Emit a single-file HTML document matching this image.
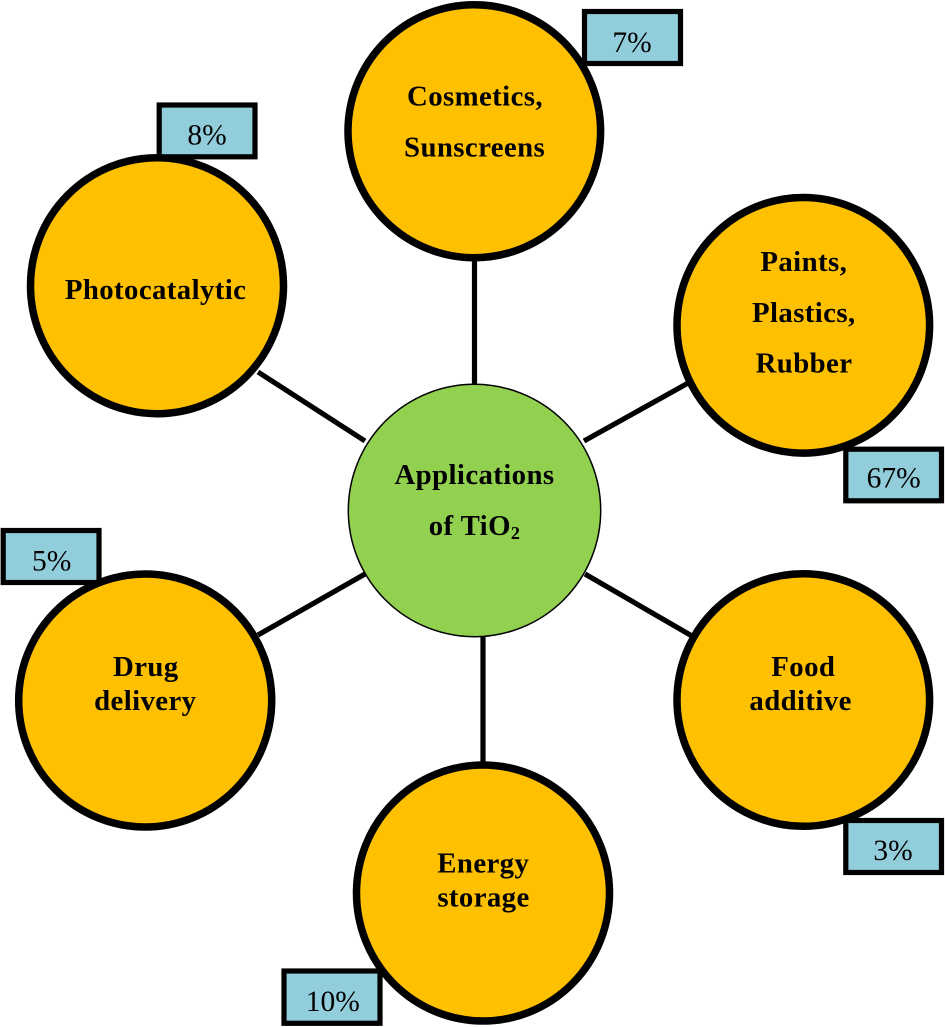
<!DOCTYPE html>
<html>
<head>
<meta charset="utf-8">
<style>
html,body{margin:0;padding:0;background:#fff;}
svg{display:block;}
text{font-family:"Liberation Serif",serif;text-anchor:middle;fill:#000;}
.b{font-weight:bold;font-size:28.8px;letter-spacing:.4px;}
.p{font-size:29.5px;}
.c{fill:#FFC000;stroke:#000;stroke-width:7.5;}
.r{fill:#92CDDC;stroke:#000;stroke-width:5.2;}
.l{stroke:#000;stroke-width:5.2;fill:none;}
</style>
</head>
<body>
<svg width="945" height="1027" viewBox="0 0 945 1027" xmlns="http://www.w3.org/2000/svg">
<rect width="945" height="1027" fill="#fff"/>
<line class="l" x1="474.5" y1="258" x2="474.5" y2="385"/>
<line class="l" x1="584" y1="441" x2="690" y2="382"/>
<line class="l" x1="585" y1="574" x2="692" y2="636"/>
<line class="l" x1="483" y1="636" x2="483" y2="766"/>
<line class="l" x1="258" y1="635" x2="365" y2="574"/>
<line class="l" x1="258" y1="372" x2="365" y2="441"/>

<circle cx="474.5" cy="510.5" r="126.2" fill="#92D050" stroke="#000" stroke-width="1.5"/>

<ellipse class="c" cx="474.3" cy="131.2" rx="126.3" ry="126.5"/>
<ellipse class="c" cx="803.3" cy="325.3" rx="126.3" ry="127.8"/>
<ellipse class="c" cx="803.3" cy="700" rx="126.3" ry="126.3"/>
<ellipse class="c" cx="483" cy="893" rx="126.5" ry="128"/>
<ellipse class="c" cx="145.2" cy="700.5" rx="126.5" ry="126.5"/>
<ellipse class="c" cx="157" cy="285.7" rx="126.5" ry="128"/>

<rect class="r" x="584.5" y="11.5" width="96" height="52"/>
<rect class="r" x="159.2" y="105" width="95.8" height="51.8"/>
<rect class="r" x="845.8" y="449.2" width="95.7" height="51.6"/>
<rect class="r" x="3.2" y="530.5" width="95.8" height="52"/>
<rect class="r" x="845.8" y="820.5" width="95.7" height="52"/>
<rect class="r" x="284" y="971" width="96" height="52.3"/>

<text class="p" x="632" y="52">7%</text>
<text class="p" x="207" y="144.3">8%</text>
<text class="p" x="893.7" y="487.7">67%</text>
<text class="p" x="51.7" y="570.7">5%</text>
<text class="p" x="893" y="860">3%</text>
<text class="p" x="332.8" y="1011">10%</text>

<text class="b" x="475" y="105.5">Cosmetics,</text>
<text class="b" x="474.6" y="156.7">Sunscreens</text>
<text class="b" x="803.8" y="271">Paints,</text>
<text class="b" x="803.8" y="321.8">Plastics,</text>
<text class="b" x="804" y="372.7">Rubber</text>
<text class="b" x="155.6" y="299">Photocatalytic</text>
<text class="b" x="474.5" y="484">Applications</text>
<text class="b" x="474.5" y="535">of TiO<tspan font-size="18" dy="4">2</tspan></text>
<text class="b" x="145.8" y="676">Drug</text>
<text class="b" x="145.3" y="710">delivery</text>
<text class="b" x="803.3" y="676">Food</text>
<text class="b" x="800.6" y="710">additive</text>
<text class="b" x="483.3" y="872.7">Energy</text>
<text class="b" x="483.5" y="906.7">storage</text>
</svg>
</body>
</html>
